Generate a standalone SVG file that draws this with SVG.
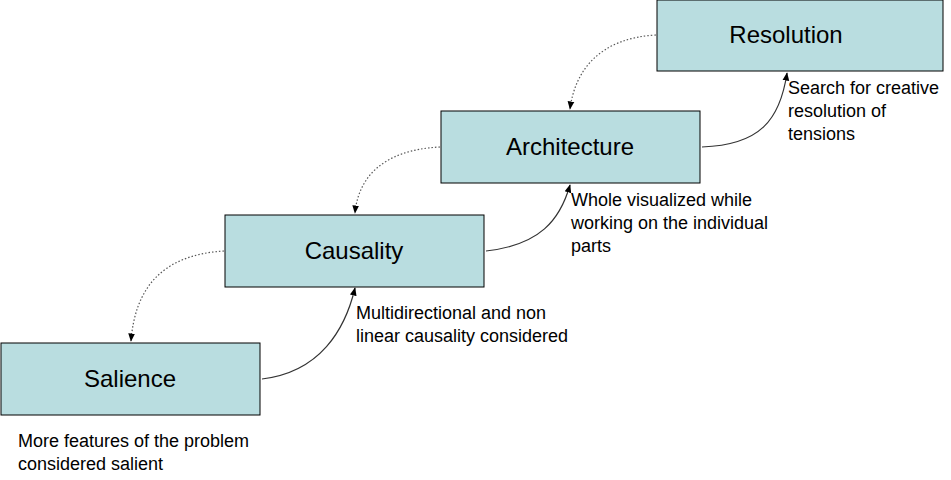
<svg xmlns="http://www.w3.org/2000/svg" width="951" height="480" viewBox="0 0 951 480">
<style>
.box{fill:#b9dde0;stroke:#000;stroke-width:1}
.t{font-family:"Liberation Sans",Arial,sans-serif;font-size:24px;fill:#000;text-anchor:middle}
.n{font-family:"Liberation Sans",Arial,sans-serif;font-size:18px;fill:#000}
.s{fill:none;stroke:#333;stroke-width:1.2;marker-end:url(#a)}
.d{fill:none;stroke:#555;stroke-width:1.2;stroke-dasharray:1.5 2;marker-end:url(#a)}
</style>
<defs><marker id="a" viewBox="0 0 10 10" refX="9" refY="5" markerWidth="7" markerHeight="7" orient="auto"><path d="M0,1 L10,5 L0,9 z" fill="#000"/></marker></defs>
<rect width="951" height="480" fill="#fff"/>
<g id="connectors">
<path class="s" d="M262,379 C320,372 345,330 355,288"/>
<path class="s" d="M486,251 C540,245 560,220 570,185"/>
<path class="s" d="M702,147 C760,145 780,120 787,73"/>
<path class="d" d="M224,251 C160,255 135,290 131,341"/>
<path class="d" d="M440,147 C380,150 358,180 355,213"/>
<path class="d" d="M656,35 C600,38 575,70 570,109"/>
</g>
<g id="resolution"><rect class="box" x="657" y="0" width="286" height="71"/><text class="t" x="786" y="43">Resolution</text></g>
<g id="architecture"><rect class="box" x="441" y="111" width="259" height="72"/><text class="t" x="570" y="155">Architecture</text></g>
<g id="causality"><rect class="box" x="225" y="215" width="259" height="72"/><text class="t" x="354" y="259">Causality</text></g>
<g id="salience"><rect class="box" x="1" y="343" width="259" height="72"/><text class="t" x="130" y="387">Salience</text></g>
<g id="labels">
<text class="n" x="788" y="94">Search for creative</text>
<text class="n" x="788" y="117">resolution of</text>
<text class="n" x="788" y="140">tensions</text>
<text class="n" x="571" y="206">Whole visualized while</text>
<text class="n" x="571" y="229">working on the individual</text>
<text class="n" x="571" y="252">parts</text>
<text class="n" x="356" y="319">Multidirectional and non</text>
<text class="n" x="356" y="342">linear causality considered</text>
<text class="n" x="18" y="447">More features of the problem</text>
<text class="n" x="18" y="470">considered salient</text>
</g>
</svg>
